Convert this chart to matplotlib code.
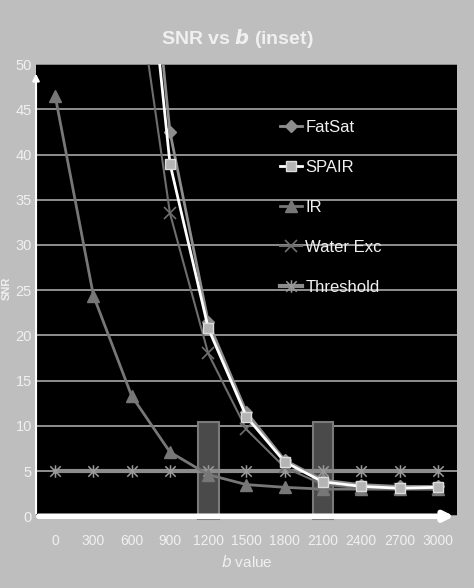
import matplotlib
matplotlib.use('Agg')
import matplotlib.pyplot as plt
from matplotlib.patches import Rectangle
from matplotlib.path import Path

plt.rcParams['font.family'] = ['Liberation Sans', 'DejaVu Sans']

# data (points above 50 are estimates, clipped by the axis)
b_values = ['0', '300', '600', '900', '1200', '1500', '1800', '2100', '2400', '2700', '3000']
fatsat    = [200, 130, 85, 42.5, 21.5, 11.5, 6.2, 4.0, 3.5, 3.3, 3.3]
spair     = [190, 125, 80, 39.0, 20.8, 11.0, 6.0, 3.8, 3.3, 3.1, 3.2]
ir        = [46.5, 24.4, 13.3, 7.1, 4.6, 3.5, 3.2, 3.0, 3.0, 3.0, 3.0]
water_exc = [140, 95, 63, 33.5, 18.0, 9.6, 5.4, 3.5, 3.1, 3.0, 3.0]
threshold = [5, 5, 5, 5, 5, 5, 5, 5, 5, 5, 5]
boxed = ['1200', '2100']   # highlighted b values
box_top = 10.4

bg = '#bebebe'
txt = '#f0f0f0'

# excel style star: an x with a vertical bar through it
star = Path([(-1, -1), (1, 1), (-1, 1), (1, -1), (0, -1.2), (0, 1.2)],
            [Path.MOVETO, Path.LINETO, Path.MOVETO, Path.LINETO, Path.MOVETO, Path.LINETO])

fig = plt.figure(figsize=(4.74, 5.88), dpi=100, facecolor=bg)
ax = fig.add_axes([0.076, 0.122, 0.888, 0.769])
ax.set_facecolor('black')

x = list(range(len(b_values)))

for b in boxed:
    i = b_values.index(b)
    ax.add_patch(Rectangle((i - 0.27, -0.3), 0.54, box_top + 0.3, facecolor='#4a4a4a',
                           edgecolor='#7a7a7a', lw=1.5, zorder=2, clip_on=False))

ax.plot(x, threshold, color='#8c8c8c', lw=3, marker=star, ms=9, mew=1.1, mec='#9a9a9a', zorder=3, label='Threshold')
ax.plot(x, ir, color='#777777', lw=2, marker='^', ms=8, zorder=4, label='IR')
ax.plot(x, water_exc, color='#6e6e6e', lw=1.5, marker='x', ms=8, mew=1.2, zorder=4, label='Water Exc')
ax.plot(x, fatsat, color='#8e8e8e', lw=2, marker='D', ms=6, zorder=5, label='FatSat')
ax.plot(x, spair, color='white', lw=2, marker='s', ms=7, mfc='#b4b4b4', mec='#dcdcdc', zorder=6, label='SPAIR')

ax.set_xlim(-0.5, len(b_values) - 0.5)
ax.set_ylim(0, 50)
ax.set_yticks(range(0, 51, 5))
ax.set_xticks(x)
ax.set_xticklabels(b_values)
ax.grid(axis='y', color='#9a9a9a', lw=1.3)
ax.set_axisbelow(True)
ax.tick_params(colors=txt, labelsize=10.5, length=0, pad=3)
ax.tick_params(axis='x', labelsize=10, pad=13)
for s in ax.spines.values():
    s.set_visible(False)

# white axes with arrow heads
ax.annotate('', xy=(1.0, 0), xytext=(0, 0), xycoords='axes fraction',
            arrowprops=dict(arrowstyle='-|>', color='white', lw=4, mutation_scale=14), annotation_clip=False)
ax.annotate('', xy=(0, 0.985), xytext=(0, 0), xycoords='axes fraction',
            arrowprops=dict(arrowstyle='-|>', color='white', lw=1.5, mutation_scale=10), annotation_clip=False)

fig.text(0.5, 0.935, 'SNR vs $\\mathbfit{b}$ (inset)', ha='center', va='center',
         fontsize=14, fontweight='bold', color=txt)
ax.set_xlabel('$\\it{b}$ value', color=txt, fontsize=11, labelpad=4)
fig.text(0.015, 0.51, 'SNR', rotation=90, ha='center', va='center',
         color=txt, fontsize=8, fontweight='bold')

order = ['FatSat', 'SPAIR', 'IR', 'Water Exc', 'Threshold']
h, l = ax.get_legend_handles_labels()
hd = dict(zip(l, h))
leg = ax.legend([hd[k] for k in order], order, loc='upper left', bbox_to_anchor=(0.545, 0.91),
                frameon=False, labelspacing=1.5, handlelength=1.3, handletextpad=0.2,
                fontsize=12, labelcolor=txt)

fig.savefig('out.png', dpi=100, facecolor=bg)
